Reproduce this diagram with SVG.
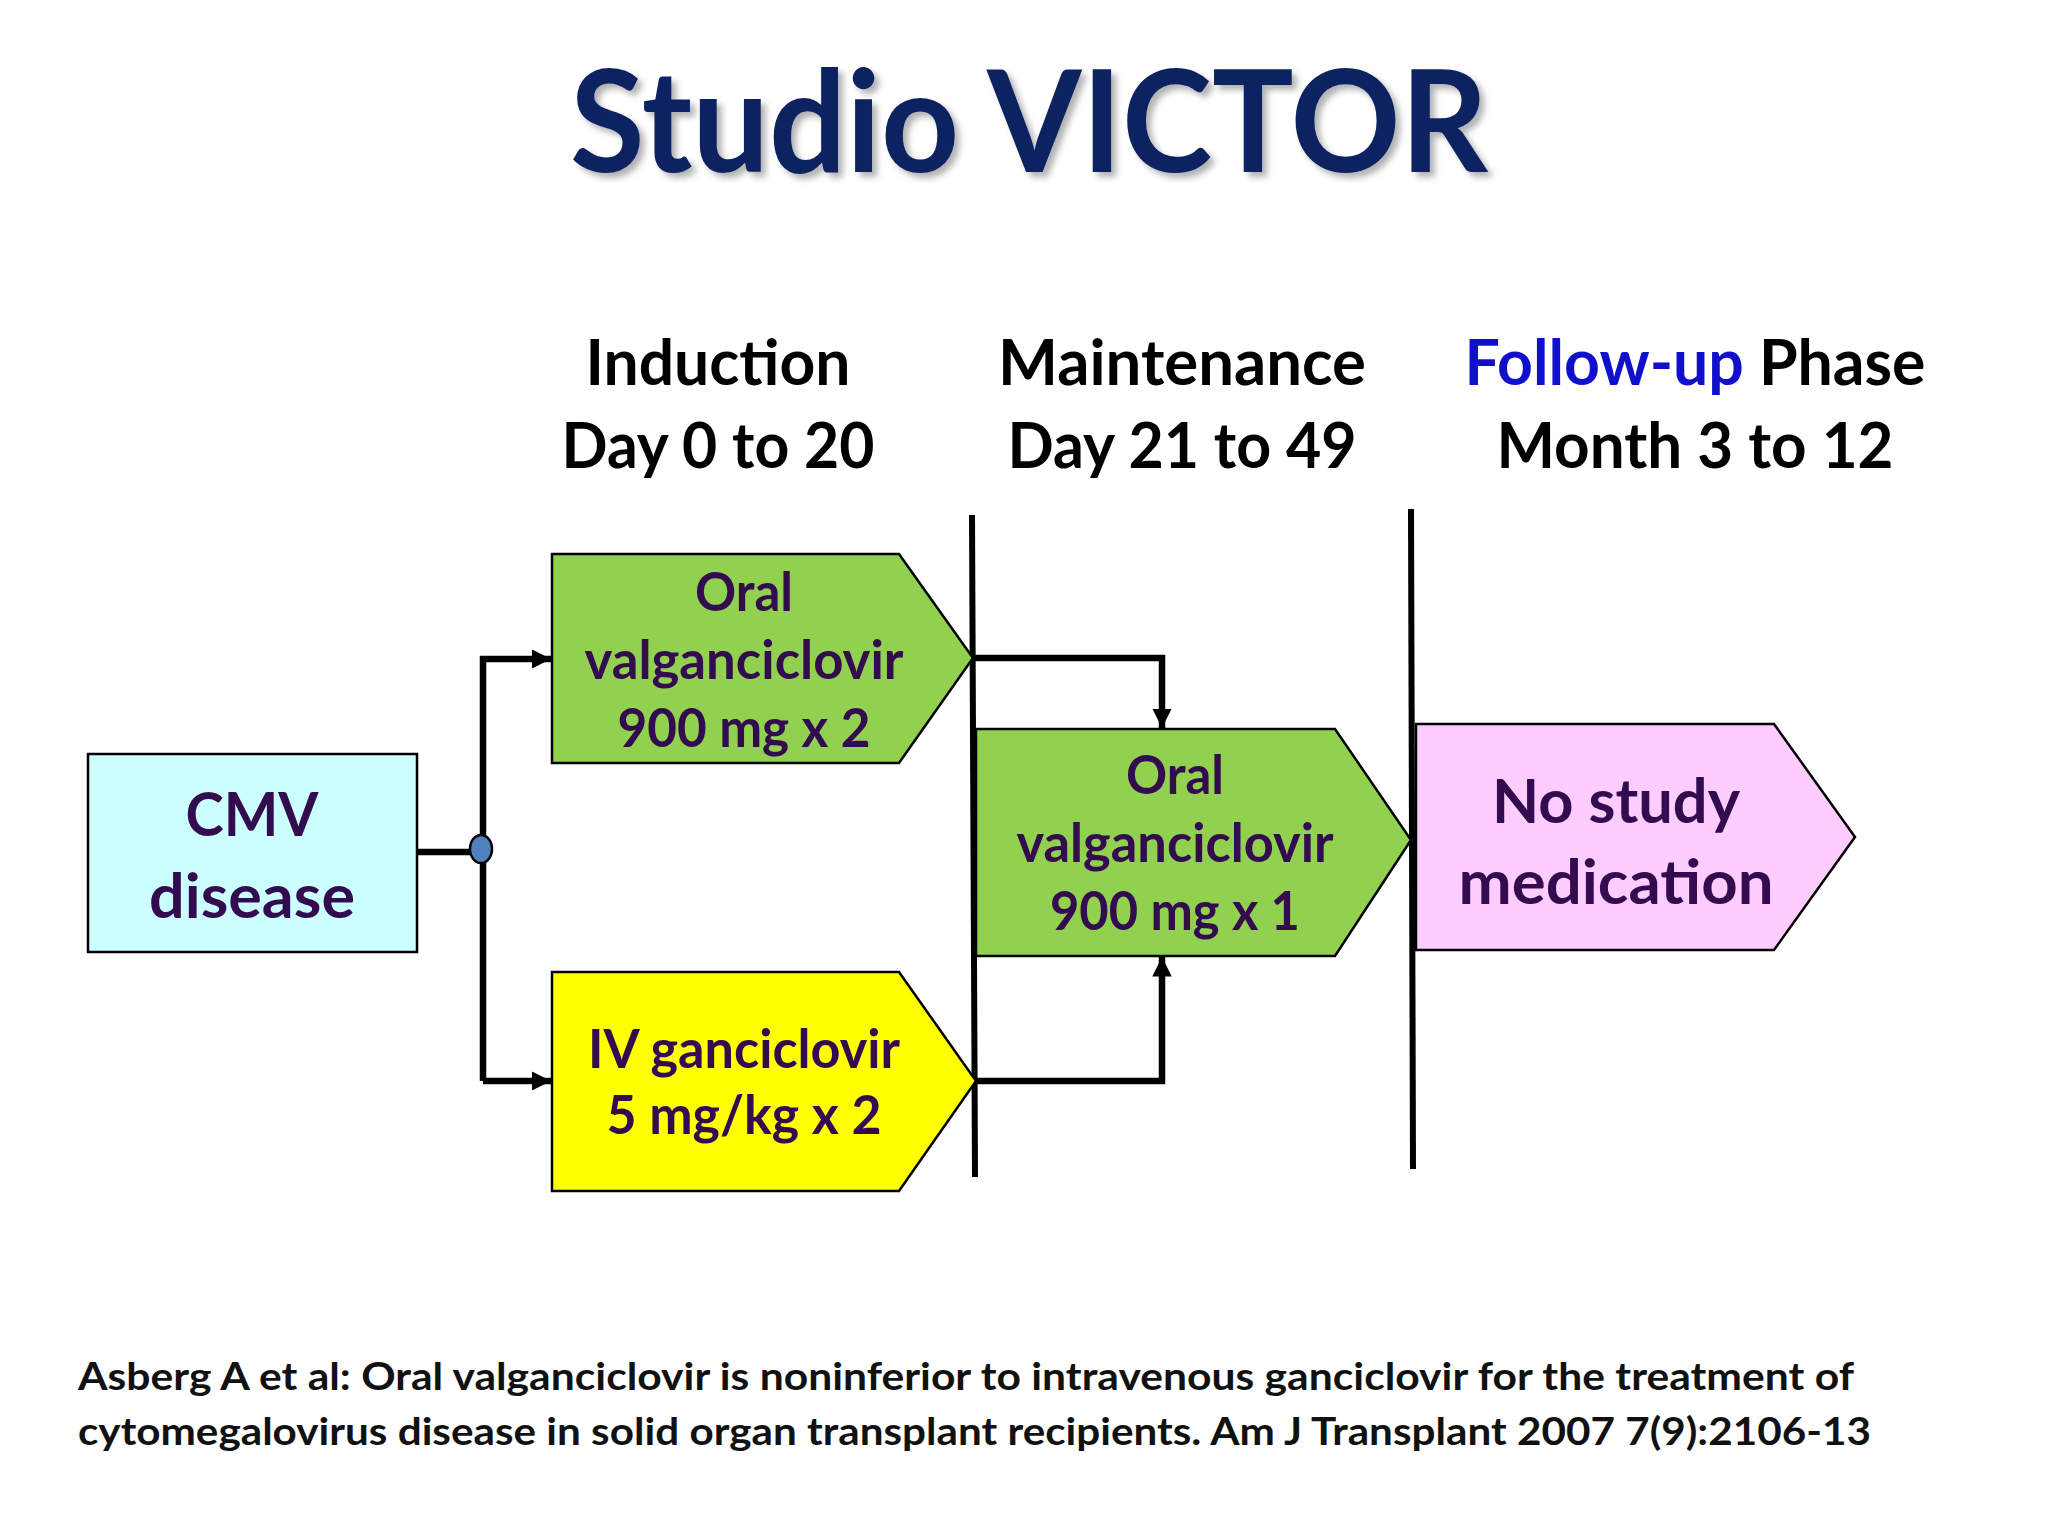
<svg xmlns="http://www.w3.org/2000/svg" width="2048" height="1536" viewBox="0 0 2048 1536">
<defs>
<filter id="sh" x="-5%" y="-10%" width="110%" height="130%">
<feDropShadow dx="5" dy="5" stdDeviation="3" flood-color="#000" flood-opacity="0.3"/>
</filter>
<marker id="ah" viewBox="0 0 10 10" refX="10" refY="5" markerWidth="3" markerHeight="3" orient="auto" markerUnits="strokeWidth">
<path d="M0,0 L10,5 L0,10 z" fill="#000"/>
</marker>
</defs>
<style>
text{font-family:Lato,"Open Sans","Liberation Sans",sans-serif;font-weight:bold;text-anchor:middle}
.title{font-size:142px;fill:#0e2461}
.hd{font-size:64px;fill:#000}
.nt{font-size:54px;fill:#330b4f}
.big{font-size:62px;fill:#330b4f}
.ft{font-size:38px;fill:#111;text-anchor:start}
.shape{stroke:#000;stroke-width:2.5}
.conn{fill:none;stroke:#000;stroke-width:6.5}
.div{stroke:#000;stroke-width:6}
</style>
<rect width="2048" height="1536" fill="#fff"/>
<text class="title" x="1029" y="172" textLength="918" lengthAdjust="spacingAndGlyphs" filter="url(#sh)">Studio VICTOR</text>
<g id="headers">
<text class="hd" x="718" y="385" textLength="265" lengthAdjust="spacingAndGlyphs">Induction</text>
<text class="hd" x="718" y="468" textLength="313" lengthAdjust="spacingAndGlyphs">Day 0 to 20</text>
<text class="hd" x="1182" y="385" textLength="368" lengthAdjust="spacingAndGlyphs">Maintenance</text>
<text class="hd" x="1182" y="468" textLength="349" lengthAdjust="spacingAndGlyphs">Day 21 to 49</text>
<text class="hd" x="1695" y="385" textLength="461" lengthAdjust="spacingAndGlyphs"><tspan fill="#1010cc">Follow-up</tspan> Phase</text>
<text class="hd" x="1695" y="468" textLength="397" lengthAdjust="spacingAndGlyphs">Month 3 to 12</text>
</g>
<g id="dividers">
<line class="div" x1="972" y1="515" x2="975" y2="1177"/>
<line class="div" x1="1411" y1="509" x2="1413" y2="1169"/>
</g>
<g id="cmv">
<rect class="shape" x="88" y="754" width="329" height="198" fill="#ccffff"/>
<text class="big" x="252" y="836" textLength="133" lengthAdjust="spacingAndGlyphs">CMV</text>
<text class="big" x="252" y="918" textLength="206" lengthAdjust="spacingAndGlyphs">disease</text>
</g>
<g id="oral1">
<polygon class="shape" points="552,554 899,554 973,658 899,763 552,763" fill="#92d050"/>
<text class="nt" x="744" y="611" textLength="98" lengthAdjust="spacingAndGlyphs">Oral</text>
<text class="nt" x="744" y="679" textLength="319" lengthAdjust="spacingAndGlyphs">valganciclovir</text>
<text class="nt" x="744" y="747" textLength="253" lengthAdjust="spacingAndGlyphs">900 mg x 2</text>
</g>
<g id="iv">
<polygon class="shape" points="552,972 899,972 976,1081 899,1191 552,1191" fill="#ffff00"/>
<text class="nt" x="744" y="1068" textLength="312" lengthAdjust="spacingAndGlyphs">IV ganciclovir</text>
<text class="nt" x="744" y="1134" textLength="275" lengthAdjust="spacingAndGlyphs">5 mg/kg x 2</text>
</g>
<g id="oral2">
<polygon class="shape" points="976,729 1335,729 1411,840 1335,956 976,956" fill="#92d050"/>
<text class="nt" x="1175" y="794" textLength="98" lengthAdjust="spacingAndGlyphs">Oral</text>
<text class="nt" x="1175" y="862" textLength="317" lengthAdjust="spacingAndGlyphs">valganciclovir</text>
<text class="nt" x="1175" y="930" textLength="250" lengthAdjust="spacingAndGlyphs">900 mg x 1</text>
</g>
<g id="nomed">
<polygon class="shape" points="1416,724 1774,724 1855,837 1774,950 1416,950" fill="#ffccff"/>
<text class="big" x="1616" y="823" textLength="248" lengthAdjust="spacingAndGlyphs">No study</text>
<text class="big" x="1616" y="904" textLength="315" lengthAdjust="spacingAndGlyphs">medication</text>
</g>
<g id="connectors">
<line class="conn" x1="417" y1="852" x2="483" y2="852"/>
<path class="conn" d="M483,1081 L483,659 L551,659" marker-end="url(#ah)"/>
<path class="conn" d="M483,1081 L551,1081" marker-end="url(#ah)"/>
<path class="conn" d="M973,658 L1162,658 L1162,728" marker-end="url(#ah)"/>
<path class="conn" d="M976,1081 L1162,1081 L1162,957" marker-end="url(#ah)"/>
<ellipse cx="481" cy="849" rx="11" ry="14" fill="#4f81bd" stroke="#000" stroke-width="2.5"/>
</g>
<g id="footer">
<text class="ft" x="78" y="1390" textLength="1776" lengthAdjust="spacingAndGlyphs">Asberg A et al: Oral valganciclovir is noninferior to intravenous ganciclovir for the treatment of</text>
<text class="ft" x="78" y="1445" textLength="1793" lengthAdjust="spacingAndGlyphs">cytomegalovirus disease in solid organ transplant recipients. Am J Transplant 2007 7(9):2106-13</text>
</g>
</svg>
